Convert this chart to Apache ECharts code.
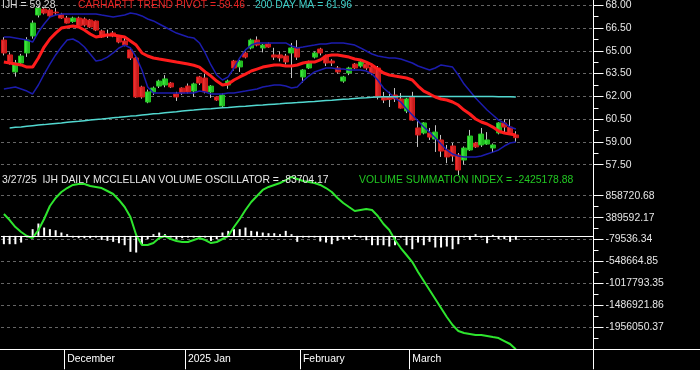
<!DOCTYPE html>
<html>
<head>
<meta charset="utf-8">
<script src="https://cdn.jsdelivr.net/npm/echarts@6/dist/echarts.min.js"></script>
<style>
html,body{margin:0;padding:0;background:#000;}
#chart{width:700px;height:370px;}
</style>
</head>
<body>
<div id="chart"></div>
<script>
// ---------- DATA ----------
const dates = [
'2024-11-14','2024-11-15','2024-11-18','2024-11-19','2024-11-20','2024-11-21','2024-11-22','2024-11-25','2024-11-26','2024-11-27','2024-11-29',
'2024-12-02','2024-12-03','2024-12-04','2024-12-05','2024-12-06','2024-12-09','2024-12-10','2024-12-11','2024-12-12','2024-12-13','2024-12-16','2024-12-17','2024-12-18','2024-12-19','2024-12-20','2024-12-23','2024-12-24','2024-12-26','2024-12-27','2024-12-30','2024-12-31',
'2025-01-02','2025-01-03','2025-01-06','2025-01-07','2025-01-08','2025-01-10','2025-01-13','2025-01-14','2025-01-15','2025-01-16','2025-01-17','2025-01-21','2025-01-22','2025-01-23','2025-01-24','2025-01-27','2025-01-28','2025-01-29','2025-01-30','2025-01-31',
'2025-02-03','2025-02-04','2025-02-05','2025-02-06','2025-02-07','2025-02-10','2025-02-11','2025-02-12','2025-02-13','2025-02-14','2025-02-18','2025-02-19','2025-02-20','2025-02-21','2025-02-24','2025-02-25','2025-02-26','2025-02-27','2025-02-28',
'2025-03-03','2025-03-04','2025-03-05','2025-03-06','2025-03-07','2025-03-10','2025-03-11','2025-03-12','2025-03-13','2025-03-14','2025-03-17','2025-03-18','2025-03-19','2025-03-20','2025-03-21','2025-03-24','2025-03-25','2025-03-26','2025-03-27'
];
const emptySlots = 13;
const monthLabels = {'2024-12':'December','2025-01':'2025 Jan','2025-02':'February','2025-03':'March'};

const open = [65.71,64.73,63.61,64.20,64.86,65.98,67.36,67.75,67.69,67.55,67.40,67.16,66.93,67.16,67.10,67.03,66.96,66.31,66.10,66.18,
65.91,65.65,65.06,64.53,62.62,61.63,62.29,62.68,62.75,62.88,62.16,62.55,62.68,62.35,63.28,63.21,62.29,61.96,61.37,62.75,
64.33,63.94,64.86,65.19,65.71,65.19,65.45,64.73,64.73,64.66,64.86,65.19,63.28,63.87,64.59,65.12,64.66,64.33,63.87,63.01,
63.54,64.13,64.00,64.13,63.94,63.87,61.96,61.96,62.09,61.83,61.04,61.96,59.92,59.59,59.59,59.19,59.13,58.47,58.73,58.14,
57.81,58.47,58.93,58.80,58.86,58.60,59.59,60.25,59.98,59.46];
const close = [64.86,64.27,64.20,64.66,65.71,66.83,67.82,67.49,67.30,67.50,67.16,66.83,67.16,66.64,66.70,66.57,66.37,65.91,66.05,65.98,
65.58,65.38,64.53,61.96,61.96,62.29,62.55,63.01,63.15,62.62,61.96,62.22,62.29,62.82,62.88,62.29,62.68,61.76,62.09,63.01,
63.87,64.33,64.59,65.71,65.38,65.38,65.25,64.59,64.53,64.27,65.19,64.59,63.74,64.27,64.86,64.86,64.20,64.20,63.61,63.28,
63.87,63.87,64.27,63.87,63.54,61.96,61.76,61.80,61.83,61.23,61.83,60.44,59.46,60.25,59.32,59.65,58.40,58.01,58.07,57.15,
58.60,59.39,58.67,59.52,59.13,58.80,60.25,59.98,59.59,59.28];
const low = [64.70,64.10,63.30,64.10,64.60,65.80,67.20,67.40,67.20,67.35,67.10,66.80,66.85,66.60,66.60,66.50,66.30,65.85,65.85,65.90,
65.50,65.30,64.40,61.90,61.85,61.55,62.10,62.55,62.60,62.55,61.70,62.10,62.20,61.96,62.75,62.20,61.90,61.70,61.30,62.50,
63.70,63.61,64.50,65.10,65.30,64.90,65.20,64.40,64.30,64.10,63.21,64.40,62.90,63.80,64.50,64.70,64.00,64.00,63.50,62.90,
63.40,63.80,63.90,63.75,63.40,61.80,61.56,61.30,61.63,61.20,60.90,60.40,58.67,59.50,59.13,58.34,58.01,57.60,57.70,56.82,
57.50,58.40,58.60,58.67,58.80,58.27,59.50,59.65,59.50,58.99];
const high = [65.90,64.90,64.40,64.80,65.90,67.00,67.95,67.90,67.80,67.82,67.50,67.30,67.25,67.25,67.20,67.10,67.00,66.40,66.40,66.30,
66.00,65.98,65.20,64.70,62.70,62.45,62.65,63.10,63.40,62.95,62.30,62.60,62.85,62.90,63.35,63.50,62.75,62.00,62.20,63.10,
64.40,64.40,64.95,65.80,65.95,65.45,65.55,65.20,64.95,64.80,65.52,65.70,63.80,64.35,64.95,65.20,64.75,64.45,64.00,63.35,
63.95,64.20,64.35,64.20,64.00,64.00,62.29,62.30,62.55,62.22,61.90,62.30,60.50,60.30,59.92,60.10,59.46,58.80,58.93,58.27,
58.70,59.79,59.00,59.92,59.65,58.90,60.30,60.50,60.50,59.70];

const trendPivot = [64.26,64.20,64.13,64.07,63.93,63.93,64.53,65.25,65.78,66.17,66.50,66.57,66.64,66.57,66.37,66.11,65.91,65.98,66.04,66.04,
65.98,65.91,65.65,65.38,64.86,64.66,64.53,64.46,64.40,64.33,64.26,64.20,64.13,64.05,63.93,63.61,63.34,63.01,62.75,62.81,
63.08,63.28,63.47,63.67,63.80,63.93,64.00,64.07,64.07,64.00,64.00,64.07,64.20,64.26,64.26,64.40,64.66,64.73,64.73,64.66,
64.59,64.46,64.40,64.26,64.07,63.80,63.54,63.41,63.34,63.28,63.21,63.08,62.68,62.35,62.16,61.96,61.83,61.76,61.63,61.43,
61.10,60.84,60.51,60.31,60.18,59.98,59.72,59.59,59.52,59.46];
const bandUpper = [65.91,65.91,65.85,65.78,65.71,65.58,66.24,66.77,67.23,67.36,67.43,67.43,67.43,67.43,67.43,67.43,67.43,67.36,67.30,67.23,
67.30,67.36,67.49,67.43,67.30,67.10,66.97,66.77,66.57,66.37,66.17,66.04,65.91,65.85,65.52,64.86,64.07,63.41,63.08,63.28,
63.87,64.53,65.06,65.38,65.52,65.52,65.52,65.52,65.52,65.52,65.32,65.19,65.25,65.32,65.38,65.45,65.45,65.52,65.52,65.52,
65.45,65.38,65.19,64.99,64.79,64.66,64.59,64.53,64.53,64.46,64.33,64.20,64.00,63.87,63.74,63.87,64.07,64.00,63.93,63.41,
62.81,62.35,61.89,61.50,61.10,60.77,60.44,60.25,59.98,59.85];
const bandLower = [62.49,62.55,62.62,62.49,62.35,62.16,62.75,63.47,64.13,64.73,65.25,65.71,65.78,65.58,65.25,64.79,64.33,64.40,64.59,64.86,
65.19,65.38,65.19,64.59,63.74,62.62,62.22,62.22,62.22,62.22,62.22,62.22,62.22,62.22,62.35,62.29,62.16,62.16,62.16,62.22,
62.22,62.29,62.35,62.42,62.49,62.62,62.68,62.75,62.75,62.68,62.55,62.62,63.01,63.34,63.61,63.74,63.87,63.87,63.80,63.80,
63.74,63.74,63.74,63.67,63.47,63.08,62.55,62.22,61.89,61.63,61.17,60.77,60.38,59.98,59.65,59.26,58.86,58.47,58.20,58.07,
58.01,58.01,58.01,58.07,58.20,58.33,58.47,58.73,58.93,58.99];
const ma200 = [null,59.92,59.96,59.99,60.03,60.07,60.11,60.14,60.18,60.22,60.25,60.29,60.33,60.36,60.40,60.44,60.48,60.51,60.55,60.59,
60.62,60.66,60.70,60.73,60.77,60.81,60.85,60.88,60.92,60.96,60.99,61.03,61.07,61.10,61.14,61.17,61.19,61.22,61.25,61.27,
61.30,61.33,61.35,61.38,61.41,61.43,61.46,61.49,61.51,61.54,61.57,61.59,61.62,61.65,61.67,61.70,61.73,61.75,61.78,61.81,
61.83,61.86,61.89,61.91,61.94,61.96,61.97,61.98,61.98,61.99,61.99,62.00,62.00,62.00,62.00,62.00,62.00,62.00,62.00,62.00,
62.00,62.00,62.00,62.00,62.00,61.99,61.98,61.97,61.97,61.96];

const mvo = [-178000,-178000,-178000,-143000,-30000,143000,264000,178000,143000,121000,71000,36000,-36000,-50000,-50000,-50000,-36000,-86000,-107000,-128000,
-157000,-200000,-342000,-356000,-178000,-71000,36000,71000,36000,-36000,-71000,-50000,-36000,-36000,-36000,-36000,-107000,-71000,71000,107000,
143000,143000,178000,107000,93000,71000,57000,57000,36000,107000,36000,-128000,-36000,-36000,-36000,-121000,-143000,-178000,-107000,-71000,
-71000,21000,-36000,-93000,-200000,-200000,-200000,-228000,-200000,-36000,-200000,-285000,-143000,-200000,-128000,-249000,-249000,-228000,-285000,-178000,
-36000,-86000,36000,-36000,-157000,21000,-71000,-71000,-128000,-83704.17];
const vsi = [467000,339000,189000,83000,-3000,-46000,125000,361000,638000,810000,938000,1023000,1088000,1109000,1109000,1066000,1045000,1023000,959000,895000,
767000,617000,403000,18000,-195000,-195000,-153000,-46000,-3000,-67000,-110000,-131000,-131000,-89000,-46000,-89000,-153000,-131000,-67000,-3000,
189000,361000,553000,724000,852000,981000,1045000,1088000,1130000,1194000,1259000,1216000,1173000,1152000,1130000,1088000,1023000,938000,810000,703000,
617000,532000,553000,574000,553000,425000,254000,125000,-89000,-260000,-409000,-559000,-773000,-965000,-1158000,-1350000,-1542000,-1735000,-1906000,-2034000,
-2077000,-2098000,-2120000,-2120000,-2141000,-2163000,-2184000,-2248000,-2312000,-2425178.88];

const priceMin = 57.5, priceMax = 68.0, priceStep = 1.5;
const oscMin = -2425178.88, oscMax = 858720.68, oscSteps = 7;

const legendTop = [
  {text:'IJH = 59.28', color:'#d8d8d8', x:2},
  {text:'CARHARTT TREND PIVOT = 59.46', color:'#e82323', x:78},
  {text:'200 DAY MA = 61.96', color:'#3fcfc8', x:255}
];
const legendBottom = [
  {text:'3/27/25  IJH DAILY MCCLELLAN VOLUME OSCILLATOR = -83704.17', color:'#e8e8e8', x:2},
  {text:'VOLUME SUMMATION INDEX = -2425178.88', color:'#22c822', x:359}
];

// ---------- BUILD ----------
const cats = dates.concat(Array.from({length: emptySlots}, (_, k) => 'pad' + k));
const isMonthStart = (i) => i > 0 && i < dates.length && dates[i].slice(0,7) !== dates[i-1].slice(0,7);
const wickData = open.map((o, i) => [o, close[i], low[i], high[i]]);
const bodyData = open.map((o, i) => [o, close[i], Math.min(o, close[i]), Math.max(o, close[i])]);
const FONT = 'Liberation Sans, Arial, sans-serif';
const FS = 10.4;

const grad = (a, b) => ({type:'linear', x:0, y:0, x2:1, y2:0, colorStops:[{offset:0,color:a},{offset:1,color:b}]});

const titles = legendTop.map(t => ({text:t.text, left:t.x, top:0, padding:0,
    textStyle:{color:t.color, fontSize:FS, fontWeight:'normal', fontFamily:FONT}}))
  .concat(legendBottom.map(t => ({text:t.text, left:t.x, top:175, padding:0,
    textStyle:{color:t.color, fontSize:FS, fontWeight:'normal', fontFamily:FONT}})));

const yCommon = {
  type:'value', position:'right', scale:true,
  axisLine:{show:false},
  axisTick:{show:true, length:10, lineStyle:{color:'#ffffff'}},
  minorTick:{show:true, splitNumber:2, length:5, lineStyle:{color:'#ffffff'}},
  splitLine:{show:true, lineStyle:{color:'#656565', type:[3,3], width:1}}
};

const option = {
  backgroundColor:'#000000',
  animation:false,
  title: titles,
  grid:[
    {left:1, right:106.5, top:5.3, height:159.4},
    {left:1, right:106.5, top:195.7, height:153.6}
  ],
  xAxis:[
    {type:'category', gridIndex:0, data:cats, boundaryGap:true, show:false},
    {type:'category', gridIndex:1, data:cats, boundaryGap:true, position:'bottom',
     axisLine:{show:false, onZero:false},
     axisTick:{show:true, length:20, interval:(i)=>isMonthStart(i), lineStyle:{color:'#ffffff'}},
     axisLabel:{show:true, interval:(i)=>isMonthStart(i), align:'left', margin:5,
       color:'#ffffff', fontSize:FS, fontFamily:FONT,
       formatter:(v)=> monthLabels[v.slice(0,7)] || ''},
     splitLine:{show:false}}
  ],
  yAxis:[
    Object.assign({}, yCommon, {gridIndex:0, min:priceMin, max:priceMax, interval:priceStep,
      axisLabel:{color:'#e6e6e6', fontSize:FS, fontFamily:FONT, margin:12, formatter:(v)=>v.toFixed(2)}}),
    Object.assign({}, yCommon, {gridIndex:1, min:oscMin, max:oscMax, interval:(oscMax-oscMin)/oscSteps,
      axisLabel:{color:'#e6e6e6', fontSize:FS, fontFamily:FONT, margin:12, showMinLabel:false, formatter:(v)=>v.toFixed(2)}})
  ],
  graphic:[
    {type:'line', shape:{x1:593.5, y1:0, x2:593.5, y2:350}, style:{stroke:'#ffffff', lineWidth:1}, z:10},
    {type:'line', shape:{x1:0, y1:349.5, x2:700, y2:349.5}, style:{stroke:'#ffffff', lineWidth:1}, z:10}
  ],
  series:[
    {name:'wicks', type:'candlestick', xAxisIndex:0, yAxisIndex:0, data:wickData, barWidth:1, clip:false, z:2,
     itemStyle:{color:'#c4c4c4', color0:'#c4c4c4', borderColor:'#c4c4c4', borderColor0:'#c4c4c4', borderColorDoji:'#c4c4c4', borderWidth:1}},
    {name:'IJH', type:'candlestick', xAxisIndex:0, yAxisIndex:0, data:bodyData, barWidth:5.5, clip:false, z:3,
     itemStyle:{color:grad('#4cff4c','#10a010'), color0:grad('#ff3a3a','#b01212'),
       borderColor:'#22c022', borderColor0:'#d41818', borderColorDoji:'#d41818', borderWidth:1}},
    {name:'upper', type:'line', xAxisIndex:0, yAxisIndex:0, data:bandUpper, symbol:'none', clip:false, z:4,
     lineStyle:{color:'#1c1cae', width:1.5}},
    {name:'lower', type:'line', xAxisIndex:0, yAxisIndex:0, data:bandLower, symbol:'none', clip:false, z:4,
     lineStyle:{color:'#1c1cae', width:1.5}},
    {name:'200 DAY MA', type:'line', xAxisIndex:0, yAxisIndex:0, data:ma200, symbol:'none', clip:false, z:4,
     lineStyle:{color:'#52d8d0', width:1.5}},
    {name:'CARHARTT TREND PIVOT', type:'line', xAxisIndex:0, yAxisIndex:0, data:trendPivot, symbol:'none', clip:false, z:5,
     lineStyle:{color:'#ff1c1c', width:3}},
    {name:'MVO', type:'bar', xAxisIndex:1, yAxisIndex:1, data:mvo, barWidth:2, z:3,
     itemStyle:{color:'#ffffff'},
     markLine:{silent:true, symbol:['none','none'], label:{show:false},
       lineStyle:{color:'#ffffff', type:'solid', width:1}, data:[{yAxis:0}]}},
    {name:'VSI', type:'line', xAxisIndex:1, yAxisIndex:1, data:vsi, symbol:'none', clip:false, z:4,
     lineStyle:{color:'#2ee62e', width:2}}
  ]
};

const chart = echarts.init(document.getElementById('chart'), null, {renderer:'canvas'});
chart.setOption(option);
</script>
</body>
</html>
